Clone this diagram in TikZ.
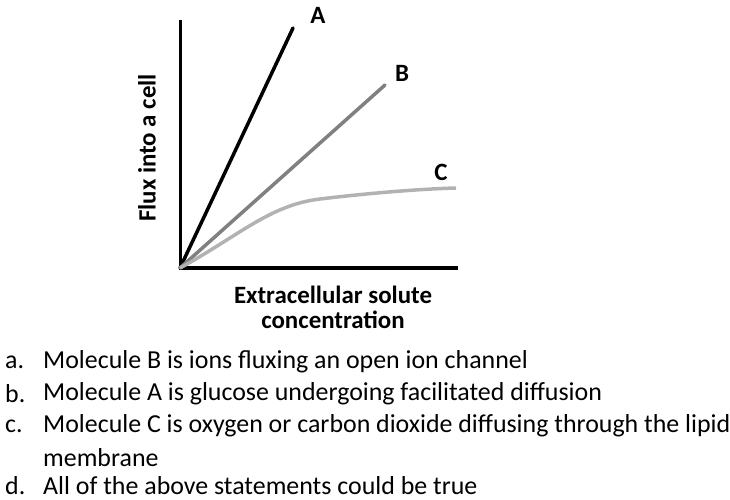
\documentclass[tikz,border=0pt]{standalone}
\usepackage{fontspec}
\setmainfont{Carlito}
\begin{document}
\begin{tikzpicture}[x=1bp,y=-1bp,
  ax/.style={line width=3bp,black},
  lbl/.style={font=\fontsize{25}{28}\selectfont\bfseries},
  ans/.style={anchor=west,font=\fontsize{26}{30}\selectfont,inner sep=0pt}]
\useasboundingbox (0,0) rectangle (730,500);
\coordinate (o) at (180,268);
\coordinate (top) at (180,20);
\coordinate (right) at (458,268);
\coordinate (ea) at (293,28);
\coordinate (eb) at (385,85);
\coordinate (ec) at (456,188);
\draw[ax] (top) -- (o) -- (right);
\draw[line width=3.5bp,black,line cap=round] (o) -- (ea);
\draw[line width=3.5bp,black!50,line cap=round] (o) -- (eb);
\draw[line width=3.5bp,black!30] (o) .. controls (240,235) and (270,205) .. (320,199) .. controls (370,193) and (420,189) .. (ec);
\node[lbl] (la) at (318,15) {A};
\node[lbl] (lb) at (402,73) {B};
\node[lbl] (lc) at (441,172) {C};
\node[lbl,rotate=90] (yl) at (147,148) {Flux into a cell};
\node[lbl,align=center,font=\fontsize{25}{25}\selectfont\bfseries] (xl) at (333,307) {Extracellular solute\\concentration};
\node[ans] (a1) at (5,362) {a.};
\node[ans] (a2) at (43,362) {Molecule B is ions fluxing an open ion channel};
\node[ans] (b1) at (5,394) {b.};
\node[ans] (b2) at (43,394) {Molecule A is glucose undergoing facilitated diffusion};
\node[ans] (c1) at (5,426) {c.};
\node[ans] (c2) at (43,426) {Molecule C is oxygen or carbon dioxide diffusing through the lipid};
\node[ans] (c3) at (43,458) {membrane};
\node[ans] (d1) at (5,486) {d.};
\node[ans] (d2) at (43,486) {All of the above statements could be true};
\end{tikzpicture}
\end{document}
